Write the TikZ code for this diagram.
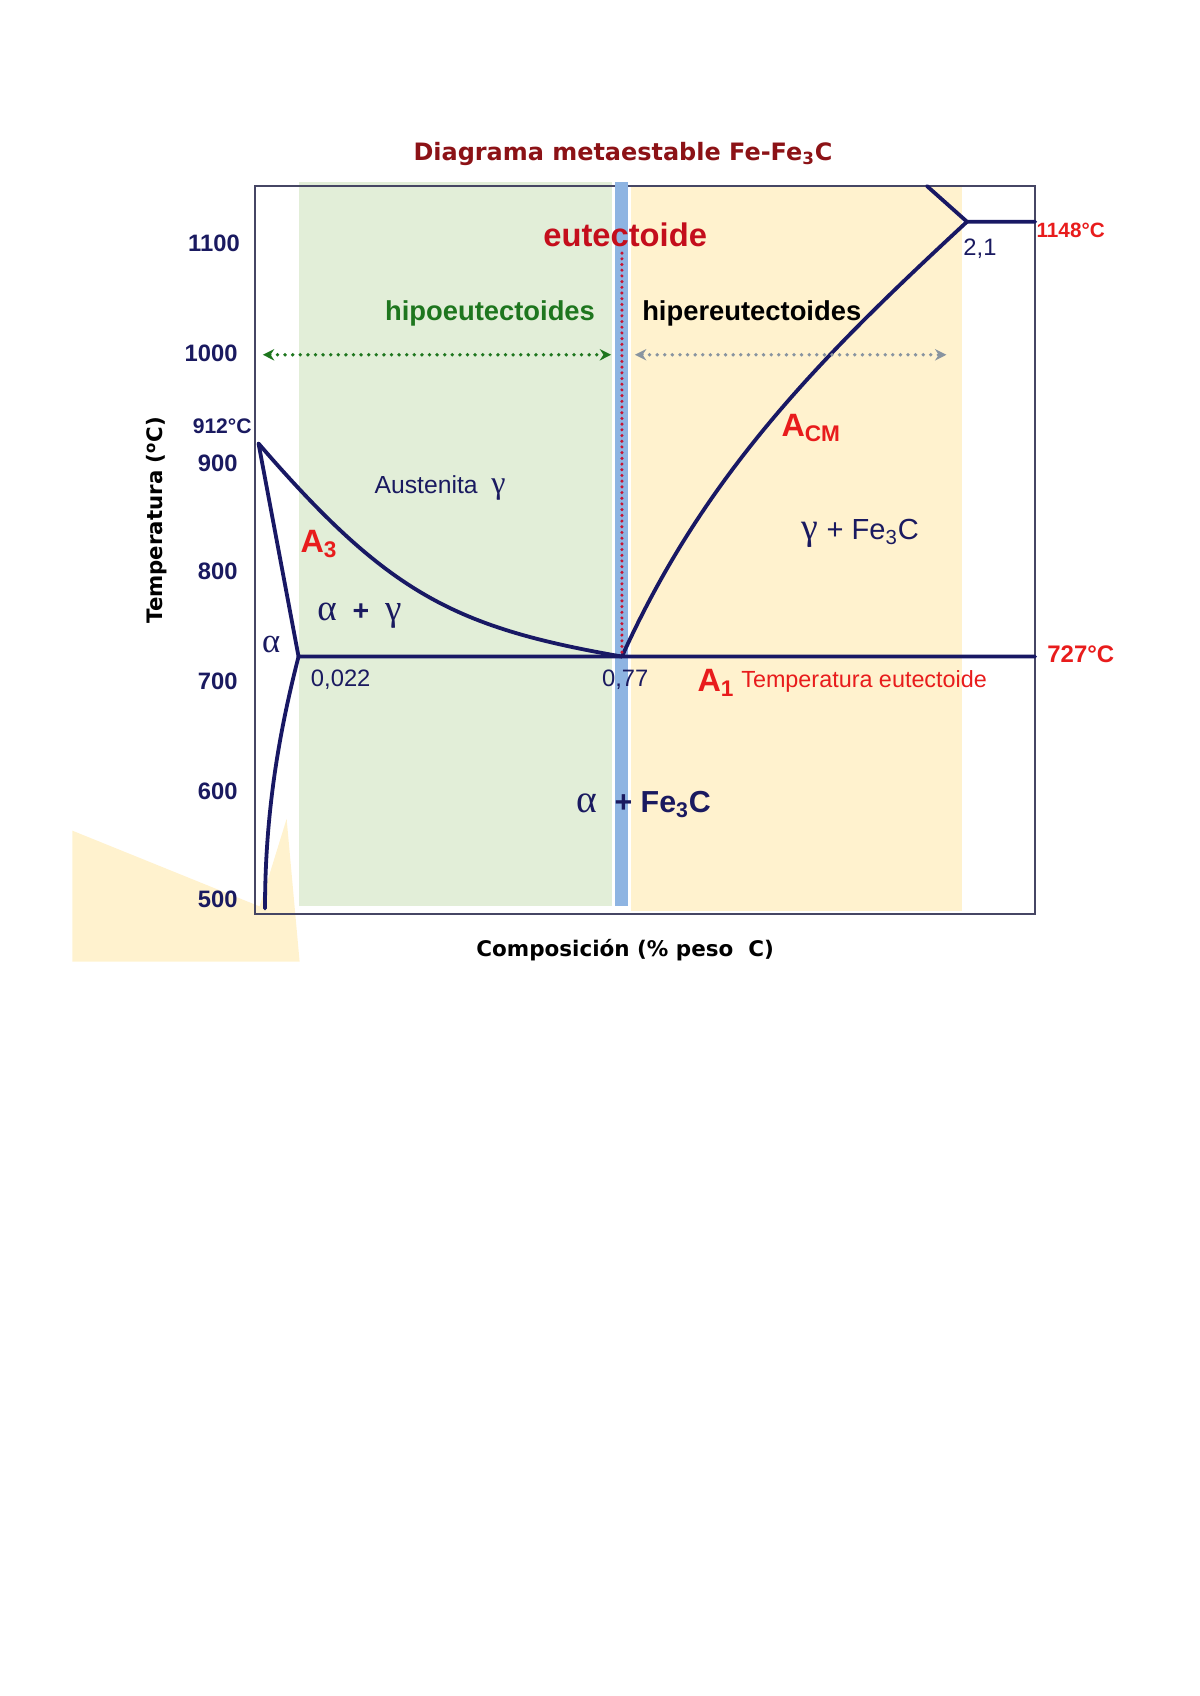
\documentclass[tikz,border=0pt]{standalone}
\usepackage{fontspec}
\usepackage{graphicx}
\setmainfont{Liberation Sans}
\newfontfamily\verd{DejaVu Sans}
\newfontfamily\grk{Liberation Serif}
\usetikzlibrary{arrows.meta}

\definecolor{linenavy}{RGB}{24,24,100}
\definecolor{textnavy}{RGB}{26,26,96}
\definecolor{framegray}{RGB}{70,70,100}
\definecolor{titlered}{RGB}{140,18,22}
\definecolor{eutred}{RGB}{196,14,28}
\definecolor{brightred}{RGB}{232,28,28}
\definecolor{hipogreen}{RGB}{30,118,30}
\definecolor{greenfill}{RGB}{226,238,216}
\definecolor{yellowfill}{RGB}{255,242,206}
\definecolor{bandblue}{RGB}{142,180,226}
\definecolor{arrowgray}{RGB}{136,148,160}
\definecolor{dotred}{RGB}{200,20,50}

\newcommand\fsz[1]{\fontsize{#1pt}{#1pt}\selectfont}
\newcommand\gr[1]{\scalebox{1.3}{\grk #1}}

\tikzset{
  curve/.style={draw=linenavy, line width=2pt, line join=round, line cap=round},
  frameline/.style={draw=framegray, line width=0.9pt},
  tick/.style={anchor=east, inner sep=0pt, text=textnavy, font=\fsz{12.5}\bfseries},
  phase/.style={inner sep=0pt, text=textnavy},
  redlab/.style={inner sep=0pt, text=brightred, font=\fsz{17}\bfseries},
  dotarrow/.style={line width=2pt, dash pattern=on 0pt off 4pt, line cap=round,
    {Stealth[length=6pt,width=6pt]}-{Stealth[length=6pt,width=6pt]}}
}

\begin{document}
\begin{tikzpicture}[x=0.02cm, y=-0.02cm]
    \useasboundingbox (0,0) rectangle (1109,1568);
    % background regions
    \fill[yellowfill] (67,768) -- (240,838) -- (265,757) -- (277,889) -- (67,889) -- cycle;
    \fill[greenfill] (276,168) rectangle (566,838);
    \fill[yellowfill] (583,171) rectangle (889,842);
    \draw[frameline] (236,172) rectangle (957,845);
    \fill[bandblue] (569,168) rectangle (581,838);

    % key points
    \coordinate (P912) at (239,410);
    \coordinate (P022) at (276,607);
    \coordinate (P077) at (575,607);
    \coordinate (P21) at (894,205);
    \coordinate (Ptop) at (857,172);
    \coordinate (R1148) at (957,205);
    \coordinate (R727) at (957,607);
    \coordinate (Pbot) at (245,840);
    \coordinate (Etop) at (575,234);

    % phase boundaries
    \draw[curve] (P912) -- (P022) -- (R727);
    \draw[curve] (P912) .. controls (359,549) and (420,580) .. (P077);
    \draw[curve] (P022) .. controls (262,662) and (245,740) .. (Pbot);
    \draw[curve] (P077) .. controls (652,437) and (759,330) .. (P21);
    \draw[curve] (Ptop) -- (P21) -- (R1148);

    % eutectoid composition
    \draw[dotred, line width=1.8pt, dash pattern=on 0pt off 3pt, line cap=round] (Etop) -- (P077);

    % ranges
    \coordinate (hipoL) at (243,328);
    \coordinate (hipoR) at (565,328);
    \coordinate (hiperL) at (587,328);
    \coordinate (hiperR) at (875,328);
    \draw[dotarrow, hipogreen] (hipoL) -- (hipoR);
    \draw[dotarrow, arrowgray] (hiperL) -- (hiperR);

    % title and axes
    \node[text=titlered, font=\verd\fsz{12.6}\bfseries] (title) at (576,142) {Diagrama metaestable Fe-Fe\textsubscript{3}C};
    \node[rotate=90, font=\verd\fsz{11.2}\bfseries] (ylab) at (145,481) {Temperatura (\textsuperscript{o}C)};
    \node[font=\verd\fsz{11.3}\bfseries] (xlab) at (578,878) {Composición (\% peso\ \ C)};
    \node[tick] (t1100) at (222,225) {1100};
    \node[tick] (t1000) at (220,326.5) {1000};
    \node[tick] (t900) at (220,428) {900};
    \node[tick] (t800) at (220,528) {800};
    \node[tick] (t700) at (220,630) {700};
    \node[tick] (t600) at (220,731.5) {600};
    \node[tick] (t500) at (220,831.6) {500};
    \node[tick, font=\fsz{11.1}\bfseries] (t912) at (233,394) {912°C};
    \node[anchor=west, inner sep=0pt, text=brightred, font=\fsz{10.9}\bfseries] (t1148) at (958,212.6) {1148°C};
    \node[anchor=west, inner sep=0pt, text=brightred, font=\fsz{12.6}\bfseries] (t727) at (968,605) {727°C};

    % region labels
    \node[inner sep=0pt, text=eutred, font=\fsz{17.2}\bfseries] (eut) at (578,217) {eutectoide};
    \node[inner sep=0pt, text=hipogreen, font=\fsz{14.4}\bfseries] (hipo) at (453,289.6) {hipoeutectoides};
    \node[inner sep=0pt, font=\fsz{14.4}\bfseries] (hiper) at (695,289.6) {hipereutectoides};
    \node[phase, font=\fsz{13}, anchor=base west] (aus) at (346,456) {Austenita\ \ \gr{γ}};
    \node[phase, font=\fsz{15.3}, anchor=base west] (gfe) at (741,499) {\gr{γ} + Fe\textsubscript{3}C};
    \node[phase, font=\fsz{15}, anchor=base west] (ag) at (293,574) {\gr{α}\ \ \textbf{+}\ \ \gr{γ}};
    \node[phase, font=\fsz{14}, anchor=base west] (alf) at (242,603) {\gr{α}};
    \node[phase, font=\fsz{12.5}] (c022) at (315,628.4) {0,022};
    \node[phase, font=\fsz{12.5}] (c077) at (578,628.4) {0,77};
    \node[phase, font=\fsz{12.5}] (c21) at (906,230) {2,1};
    \node[phase, font=\fsz{16}, anchor=base west] (afe) at (533,751) {\gr{α}\ \ \textbf{+ Fe\textsubscript{3}C}};
    \node[redlab] (A3) at (295,503) {A\textsubscript{3}};
    \node[redlab] (ACM) at (750,396) {A\textsubscript{CM}};
    \node[redlab] (A1) at (662,631) {A\textsubscript{1}};
    \node[anchor=west, inner sep=0pt, text=brightred, font=\fsz{12.3}] (teut) at (685,630) {Temperatura eutectoide};
\end{tikzpicture}
\end{document}
